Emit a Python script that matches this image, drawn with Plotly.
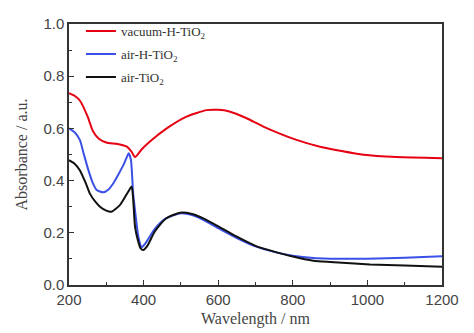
import plotly.graph_objects as go

# air-TiO2 (black)
wl_black = [200, 215, 229, 245, 256, 270, 283, 300, 314, 337, 359, 368, 372, 377, 385, 392, 399, 410, 430, 460, 498, 530, 560, 600, 650, 700, 750, 800, 855, 900, 1007, 1100, 1200]
ab_black = [0.478, 0.465, 0.44, 0.39, 0.35, 0.32, 0.30, 0.285, 0.281, 0.307, 0.358, 0.377, 0.33, 0.224, 0.17, 0.14, 0.134, 0.15, 0.205, 0.255, 0.277, 0.272, 0.255, 0.225, 0.185, 0.15, 0.128, 0.109, 0.093, 0.088, 0.079, 0.075, 0.070]

# air-H-TiO2 (blue)
wl_blue = [200, 215, 229, 240, 252, 264, 274, 292, 305, 319, 333, 346, 355, 360, 366, 372, 380, 386, 395, 405, 430, 460, 500, 530, 560, 600, 650, 700, 750, 800, 855, 900, 1000, 1100, 1200]
ab_blue = [0.60, 0.585, 0.556, 0.50, 0.44, 0.39, 0.364, 0.355, 0.365, 0.39, 0.425, 0.46, 0.49, 0.505, 0.48, 0.35, 0.25, 0.185, 0.145, 0.16, 0.215, 0.255, 0.275, 0.268, 0.25, 0.218, 0.18, 0.148, 0.127, 0.112, 0.103, 0.101, 0.101, 0.104, 0.110]

# vacuum-H-TiO2 (red)
wl_red = [200, 215, 230, 250, 264, 280, 300, 330, 355, 368, 377, 395, 417, 462, 515, 569, 600, 630, 676, 721, 810, 873, 990, 1078, 1200]
ab_red = [0.735, 0.725, 0.705, 0.645, 0.59, 0.56, 0.546, 0.54, 0.53, 0.51, 0.49, 0.52, 0.55, 0.60, 0.645, 0.67, 0.671, 0.665, 0.639, 0.607, 0.556, 0.530, 0.499, 0.490, 0.486]

names = ["vacuum-H-TiO<sub>2</sub>", "air-H-TiO<sub>2</sub>", "air-TiO<sub>2</sub>"]
colors = ["#e60012", "#3a50e6", "#111111"]

fig = go.Figure()
series = [(wl_red, ab_red), (wl_blue, ab_blue), (wl_black, ab_black)]
for i, ((x, y), n, c) in enumerate(zip(series, names, colors)):
    fig.add_trace(go.Scatter(x=x, y=y, mode="lines", name=n, legendgroup=str(i),
                             line=dict(color=c, width=2, shape="spline", smoothing=0.6)))

axis_common = dict(showline=True, linecolor="#333", linewidth=1.5, mirror=True,
                   ticks="inside", ticklen=5, tickwidth=1.2, tickcolor="#333",
                   showgrid=False, zeroline=False, automargin=False,
                   tickfont=dict(family="Liberation Sans, Arial", size=15, color="#444"))

fig.update_xaxes(range=[200, 1200], tickvals=[200, 400, 600, 800, 1000, 1200],
                 minor=dict(ticks="inside", ticklen=3, tickcolor="#333", dtick=100, tick0=200),
                 title=dict(text="Wavelength / nm", font=dict(family="Liberation Serif, Times New Roman", size=16, color="#444"), standoff=6),
                 **axis_common)
fig.update_yaxes(range=[0, 1.0], tickvals=[0, 0.2, 0.4, 0.6, 0.8, 1.0], tickformat=".1f",
                 minor=dict(ticks="inside", ticklen=3, tickcolor="#333", dtick=0.1, tick0=0),
                 title=dict(text="Absorbance / a.u.", font=dict(family="Liberation Serif, Times New Roman", size=16, color="#444"), standoff=12),
                 **axis_common)

fig.update_layout(width=474, height=333, margin=dict(l=69, r=32, t=24, b=48),
                  plot_bgcolor="white", paper_bgcolor="white",
                  legend=dict(x=0.032, y=1.03, xanchor="left", yanchor="top",
                              bgcolor="rgba(0,0,0,0)", tracegroupgap=3,
                              font=dict(family="Liberation Serif, Times New Roman", size=13, color="#333")))

fig.write_html("out.html")
